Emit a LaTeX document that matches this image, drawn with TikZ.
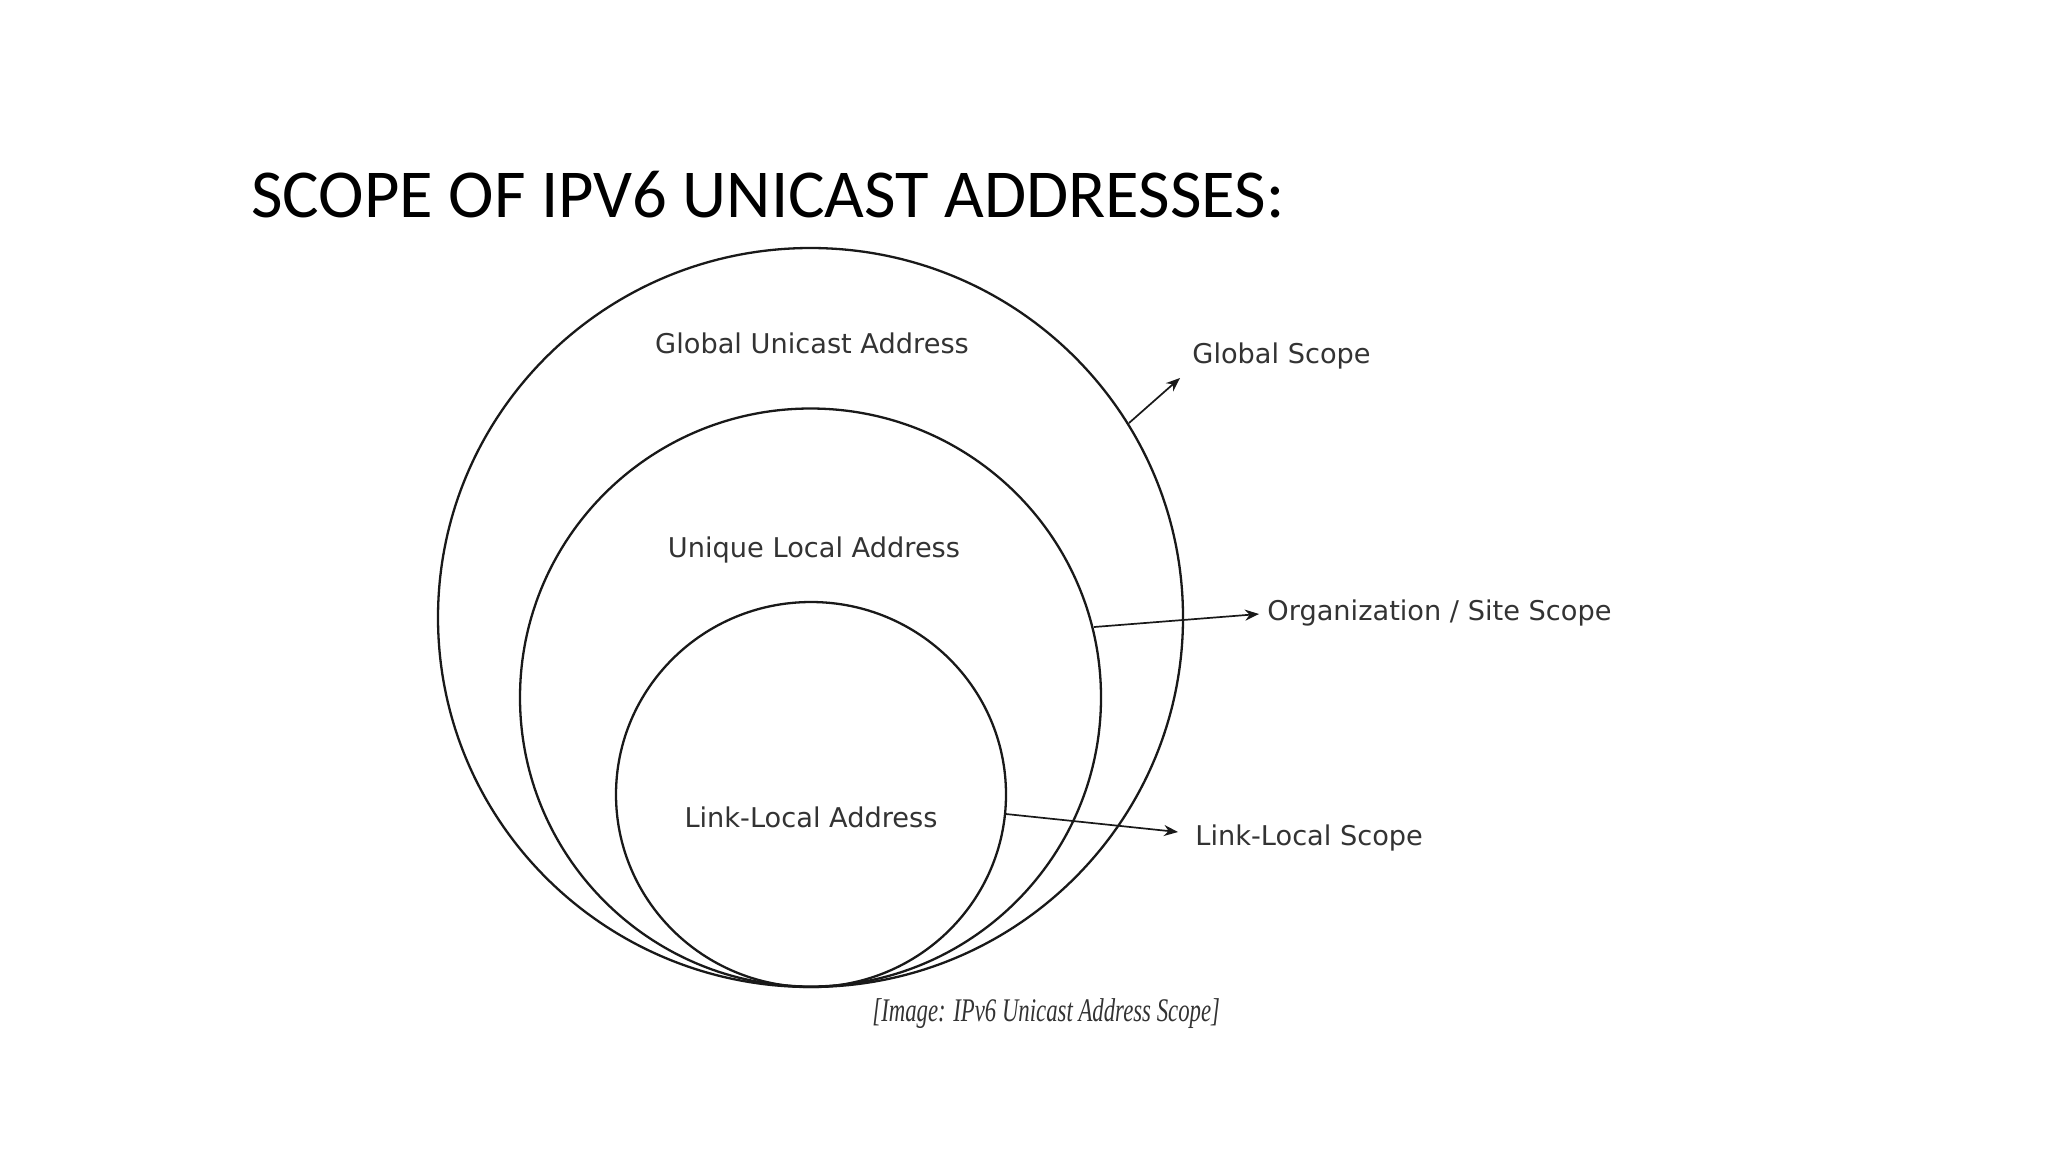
\documentclass[tikz,border=0pt]{standalone}
\usepackage{fontspec}
\newfontfamily\titlefont{Carlito}
\newfontfamily\labelfont{DejaVu Sans}
\newfontfamily\capfont{Liberation Serif}
\usetikzlibrary{shapes.geometric,arrows.meta}
\begin{document}
\begin{tikzpicture}[x=0.5pt,y=-0.5pt,
  ring/.style={draw=black!90, line width=1.15pt, ellipse, inner sep=0pt},
  lbl/.style={font=\labelfont\fontsize{13.6}{16}\selectfont, text=black!80, inner sep=0pt},
  pointer/.style={draw=black!90, line width=0.85pt, -{Stealth[length=7pt,width=5.5pt]}}]
\useasboundingbox[fill=white] (0,0) rectangle (2048,1152);
% title
\node[font=\titlefont\fontsize{34.3}{41}\selectfont, anchor=base west, inner sep=0pt] (title) at (251,217) {SCOPE OF IPV6 UNICAST ADDRESSES:};
% rings
\node[ring, minimum width=372.5pt, minimum height=369.5pt] (outer) at (810.5,617.5) {};
\node[ring, minimum width=290.5pt, minimum height=289pt] (ula) at (810.5,697.5) {};
\node[ring, minimum width=195pt, minimum height=192.5pt] (llc) at (811,794.5) {};
% labels inside
\node[lbl, anchor=base] (gua) at (812,353) {Global Unicast Address};
\node[lbl, anchor=base] (ulal) at (814,557) {Unique Local Address};
\node[lbl, anchor=base] (llal) at (811,827) {Link-Local Address};
% scope labels
\node[lbl, anchor=base west] (gs) at (1192,363) {Global Scope};
\node[lbl, anchor=base west] (os) at (1267,620) {Organization / Site Scope};
\node[lbl, anchor=base west] (ls) at (1195,845) {Link-Local Scope};
% pointer ends
\coordinate (gsA) at (1129,423);
\coordinate (gsB) at (1180,378);
\coordinate (osA) at (1094,627);
\coordinate (osB) at (1259,614);
\coordinate (lsA) at (1006,814);
\coordinate (lsB) at (1178,832);
\draw[pointer] (gsA) -- (gsB);
\draw[pointer] (osA) -- (osB);
\draw[pointer] (lsA) -- (lsB);
% caption
\node[anchor=base west, inner sep=0pt, text=black!80] (cap) at (872,1021) {\scalebox{0.69}[1]{\capfont\itshape\fontsize{16.5}{20}\selectfont [Image: IPv6 Unicast Address Scope]}};
\end{tikzpicture}
\end{document}
